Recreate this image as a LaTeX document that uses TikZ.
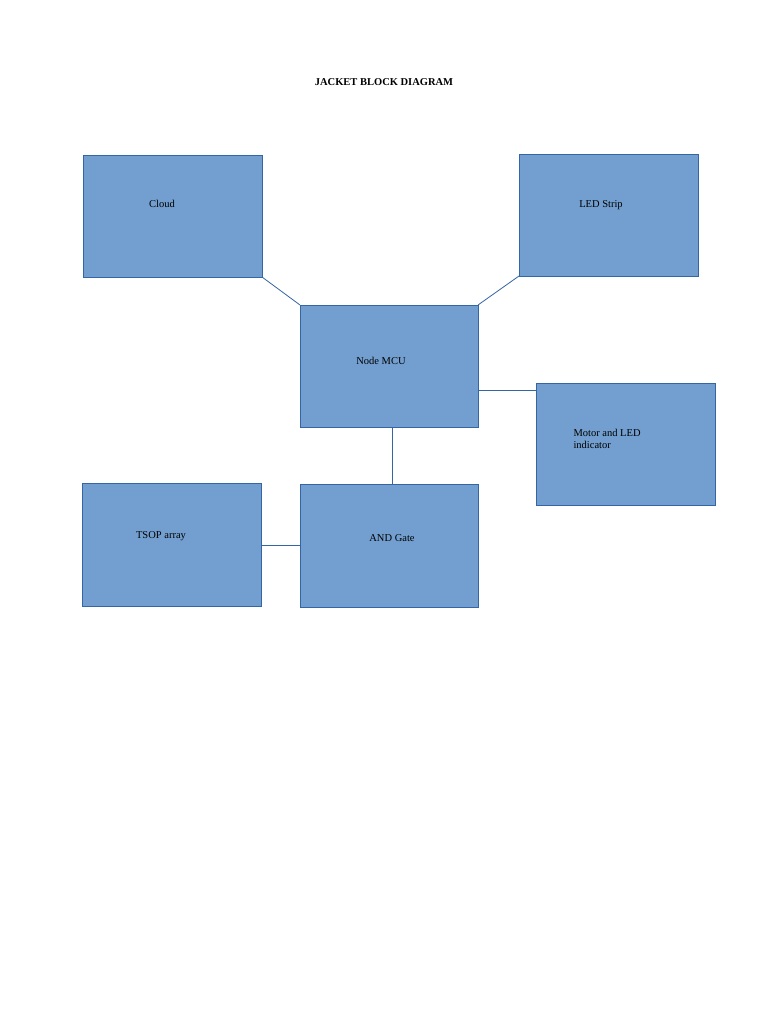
\documentclass[tikz,border=0pt]{standalone}
\usepackage{fontspec}
\setmainfont{Liberation Serif}
\definecolor{boxfill}{HTML}{729FCF}
\definecolor{boxline}{HTML}{3465A4}
\begin{document}
\begin{tikzpicture}[x=1pt,y=-1pt,
  blk/.style={draw=boxline,fill=boxfill,line width=0.8pt},
  lbl/.style={font=\fontsize{10.5}{12.5}\selectfont,align=left},
  conn/.style={draw=boxline,line width=0.8pt}]
\useasboundingbox[fill=white] (0,0) rectangle (768,1024);
\node[font=\bfseries\fontsize{10.5}{12}\selectfont] (title) at (384,82) {JACKET BLOCK DIAGRAM};
\path[blk] (83,155) rectangle (262,277);
\path[blk] (519,154) rectangle (698,276);
\path[blk] (300,305) rectangle (478,427);
\path[blk] (536,383) rectangle (715,505);
\path[blk] (82,483) rectangle (261,606);
\path[blk] (300,484) rectangle (478,607);
\coordinate (cloudC) at (262,277); \coordinate (mcuTL) at (300,305);
\coordinate (ledC) at (519,276); \coordinate (mcuTR) at (478,305);
\coordinate (mcuR) at (478,390); \coordinate (motL) at (536,390);
\coordinate (mcuB) at (392,427); \coordinate (andT) at (392,484);
\coordinate (tsopR) at (261,545); \coordinate (andL) at (300,545);
\draw[conn] (cloudC) -- (mcuTL);
\draw[conn] (ledC) -- (mcuTR);
\draw[conn] (mcuR) -- (motL);
\draw[conn] (mcuB) -- (andT);
\draw[conn] (tsopR) -- (andL);
\node[lbl] (cloud) at (162,204) {Cloud};
\node[lbl] (led) at (601,205) {LED Strip};
\node[lbl] (mcu) at (381,361) {Node MCU};
\node[lbl,anchor=west] (motor) at (570,439) {Motor and LED\\indicator};
\node[lbl] (tsop) at (161,536) {TSOP array};
\node[lbl] (and) at (392,538) {AND Gate};
\end{tikzpicture}
\end{document}
